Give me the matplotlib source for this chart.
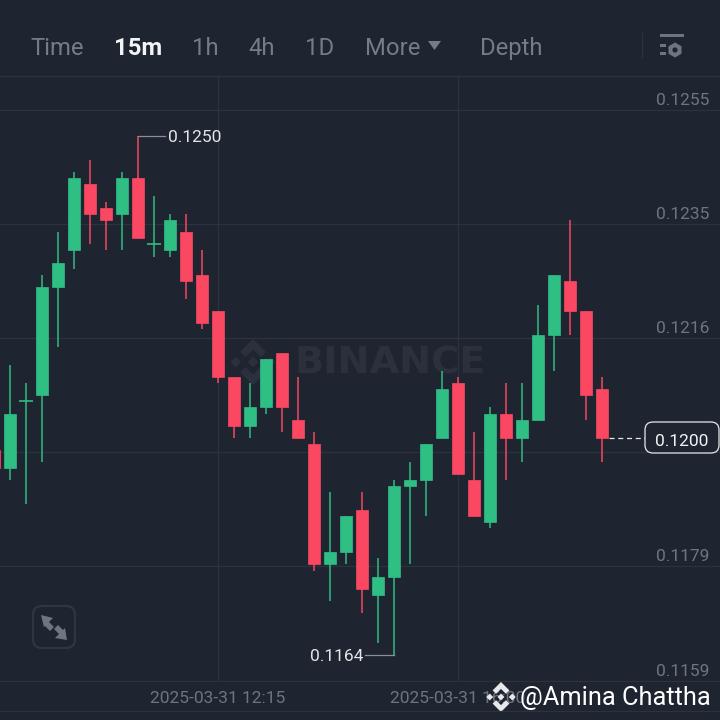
import matplotlib
matplotlib.use('Agg')
import matplotlib.pyplot as plt
from matplotlib.patches import FancyBboxPatch, Polygon, Rectangle, RegularPolygon

plt.rcParams['font.family'] = ['Roboto', 'DejaVu Sans']

# candles, oldest first (index -1 is cut off by the left edge)
first_index = -1
opens = [0.1198, 0.1195, 0.1206, 0.1207, 0.1225, 0.1231, 0.1242, 0.1238, 0.1237, 0.1243, 0.1232,
         0.1231, 0.1234, 0.1227, 0.1221, 0.1210, 0.1202, 0.1205, 0.1214, 0.1203, 0.1199, 0.1179,
         0.1181, 0.1188, 0.1174, 0.1177, 0.1192, 0.1193, 0.1200, 0.1209, 0.1193, 0.1186, 0.1204,
         0.1200, 0.1203, 0.1217, 0.1226, 0.1221, 0.1208]
closes = [0.1195, 0.1204, 0.1206, 0.1225, 0.1229, 0.1243, 0.1237, 0.1236, 0.1243, 0.1233, 0.1232,
          0.1236, 0.1226, 0.1219, 0.1210, 0.1202, 0.1205, 0.1213, 0.1205, 0.1200, 0.1179, 0.1181,
          0.1187, 0.1175, 0.1177, 0.1192, 0.1193, 0.1199, 0.1208, 0.1194, 0.1187, 0.1204, 0.1200,
          0.1203, 0.1217, 0.1227, 0.1221, 0.1207, 0.1200]
highs = [0.1198, 0.1212, 0.1209, 0.1227, 0.1234, 0.1244, 0.1246, 0.1239, 0.1244, 0.1250, 0.1240,
         0.1237, 0.1237, 0.1231, 0.1221, 0.1210, 0.1209, 0.1213, 0.1214, 0.1210, 0.1201, 0.1191,
         0.1187, 0.1191, 0.1180, 0.1193, 0.1196, 0.1199, 0.1211, 0.1210, 0.1201, 0.1205, 0.1209,
         0.1209, 0.1222, 0.1227, 0.1236, 0.1221, 0.1210]
lows = [0.1195, 0.1193, 0.1189, 0.1196, 0.1215, 0.1228, 0.1232, 0.1231, 0.1231, 0.1233, 0.1230,
        0.1230, 0.1223, 0.1218, 0.1209, 0.1200, 0.1200, 0.1204, 0.1201, 0.1200, 0.1178, 0.1173,
        0.1179, 0.1171, 0.1166, 0.1164, 0.1179, 0.1187, 0.1200, 0.1194, 0.1187, 0.1185, 0.1193,
        0.1196, 0.1203, 0.1211, 0.1217, 0.1203, 0.1196]

grid_prices = [0.12543, 0.12354, 0.12165, 0.11976, 0.11787, 0.11597]
grid_labels = ['0.1255', '0.1235', '0.1216', '', '0.1179', '0.1159']
time_ticks = [13, 28]
time_labels = ['2025-03-31 12:15', '2025-03-31 16:00']
tabs = ['Time', '15m', '1h', '4h', '1D', 'More', 'Depth']
tab_x = [30, 114.5, 192, 248, 305, 365, 480]

bg = '#1f2530'
grid_col = '#2c323e'
green = '#2fbf85'
red = '#fb4862'
dim = '#6f757f'
tab_col = '#767c86'


# Binance mark: centre and side diamonds plus two chevrons
def draw_logo(a, cx, cy, r, color, **kw):
    def diamond(x, y, s):
        a.add_patch(Polygon([(x, y - s), (x + s, y), (x, y + s), (x - s, y)], fc=color, ec='none', **kw))
    diamond(cx, cy, r * 0.23)
    diamond(cx - r * 0.75, cy, r * 0.23)
    diamond(cx + r * 0.75, cy, r * 0.23)
    for d in (-1, 1):
        a.add_patch(Polygon([(cx, cy + d * r), (cx + r * 0.56, cy + d * r * 0.44),
                             (cx + r * 0.33, cy + d * r * 0.21), (cx, cy + d * r * 0.54),
                             (cx - r * 0.33, cy + d * r * 0.21), (cx - r * 0.56, cy + d * r * 0.44)],
                            fc=color, ec='none', **kw))


def pixel_axes(z):
    a = fig.add_axes([0, 0, 1, 1], zorder=z)
    a.set_xlim(0, 720)
    a.set_ylim(720, 0)
    a.axis('off')
    return a


fig = plt.figure(figsize=(7.2, 7.2), dpi=100, facecolor=bg)

# watermark goes under the candles
under = pixel_axes(0)
under.text(390, 363, 'BINANCE', color='#2b303c', fontsize=27.5, fontweight='bold', ha='center', va='center',
           family='DejaVu Sans')
draw_logo(under, 253, 362, 23, '#2b303c')

# price chart
ax = fig.add_axes([0, 39 / 720, 1, 605 / 720], zorder=1)
ax.patch.set_alpha(0)
ax.set_xlim(-10 / 16, 710 / 16)
ax.set_ylim(0.11597, 0.12599)
for s in ['left', 'right', 'top']:
    ax.spines[s].set_visible(False)
ax.spines['bottom'].set_color(grid_col)
ax.set_xticks(time_ticks)
ax.set_xticklabels(time_labels)
ax.set_yticks(grid_prices)
ax.set_yticklabels([])
ax.tick_params(axis='both', length=0)
ax.tick_params(axis='x', colors=dim, labelsize=12.5, pad=7.2)
ax.grid(True, color=grid_col, linewidth=0.9)
ax.set_axisbelow(True)

for i in range(len(opens)):
    x = first_index + i
    col = green if closes[i] >= opens[i] else red
    ax.vlines(x, lows[i], highs[i], color=col, linewidth=1.2, alpha=0.9, zorder=3)
    if opens[i] == closes[i]:
        ax.hlines(opens[i], x - 7 / 16, x + 7 / 16, color=col, linewidth=1.3, alpha=0.9, zorder=4)
    else:
        ax.bar(x, abs(closes[i] - opens[i]), bottom=min(opens[i], closes[i]), width=12.7 / 16,
               color=col, edgecolor=col, linewidth=0.5, zorder=4)

for p, lab in zip(grid_prices, grid_labels):
    ax.annotate(lab, xy=(1, p), xycoords=ax.get_yaxis_transform(), xytext=(-8, 6.7),
                textcoords='offset points', ha='right', va='center', color=dim, fontsize=12.5)

# high / low markers
hi = max(highs)
lo = min(lows)
hi_x = first_index + highs.index(hi)
lo_x = first_index + lows.index(lo)
ax.plot([hi_x, hi_x + 27 / 16], [hi, hi], color='#8a8f98', lw=0.9, zorder=3)
ax.plot([lo_x, lo_x - 29 / 16], [lo, lo], color='#8a8f98', lw=0.9, zorder=3)
ax.annotate('0.1250', xy=(hi_x + 30 / 16, hi), xytext=(0, -1.4), textcoords='offset points',
            color='#e3e5e8', fontsize=12.5, va='center', ha='left')
ax.annotate('0.1164', xy=(lo_x - 31 / 16, lo), xytext=(0, -1.4), textcoords='offset points',
            color='#e3e5e8', fontsize=12.5, va='center', ha='right')

# last price line
last = closes[-1]
ax.plot([first_index + len(closes) - 1 + 7 / 16, 645 / 16], [last, last], color='#e6e8ea', lw=0.9,
        ls=(0, (4, 3)), zorder=3)

# everything that is app chrome
ui = pixel_axes(2)
ui.plot([0, 720], [76, 76], color=grid_col, lw=0.9)
ui.plot([0, 720], [711, 711], color=grid_col, lw=0.9)
for name, x in zip(tabs, tab_x):
    active = name == '15m'
    ui.text(x, 48.3, name, color='#f2f3f5' if active else tab_col, fontsize=17.2,
            fontweight='bold' if active else 'normal', ha='left', va='center')
ui.add_patch(Polygon([(428, 41), (441, 41), (434.5, 50)], fc=tab_col, ec='none'))
ui.plot([642, 642], [33, 57], color=grid_col, lw=1)

# settings icon
ui.add_patch(Rectangle((660, 34), 24, 3, fc=dim, ec='none'))
ui.add_patch(Rectangle((660, 44), 6, 3, fc=dim, ec='none'))
ui.add_patch(Rectangle((660, 52), 6, 3, fc=dim, ec='none'))
ui.add_patch(RegularPolygon((675, 50), 6, radius=7.5, fc=dim, ec='none'))
ui.add_patch(plt.Circle((675, 50), 2.6, fc=bg, ec='none'))

# expand button
ui.add_patch(FancyBboxPatch((39, 612), 30, 30, boxstyle='round,pad=6,rounding_size=9', fc='none',
                            ec='#2f3541', lw=1.6))
ui.add_patch(Polygon([(41, 615), (53, 618), (49, 622), (54, 627), (50, 631), (45, 626), (44, 627)],
                     fc=dim, ec='none'))
ui.add_patch(Polygon([(67, 640), (55, 638), (59, 634), (54, 629), (58, 625), (63, 630), (65, 628)],
                     fc=dim, ec='none'))

# current price box
ui.add_patch(FancyBboxPatch((650, 427), 64, 21, boxstyle='round,pad=5,rounding_size=8', fc=bg,
                            ec='#e6e8ea', lw=0.9))
ui.text(682, 441.5, '0.1200', color='#f2f3f5', fontsize=12.5, ha='center', va='center')

# repost watermark
draw_logo(ui, 501, 697, 15, '#e8e8ea')
ui.text(520, 698, '@Amina Chattha', color='#ffffff', fontsize=18.3, ha='left', va='center')

plt.savefig('out.png', dpi=100, facecolor=bg)
